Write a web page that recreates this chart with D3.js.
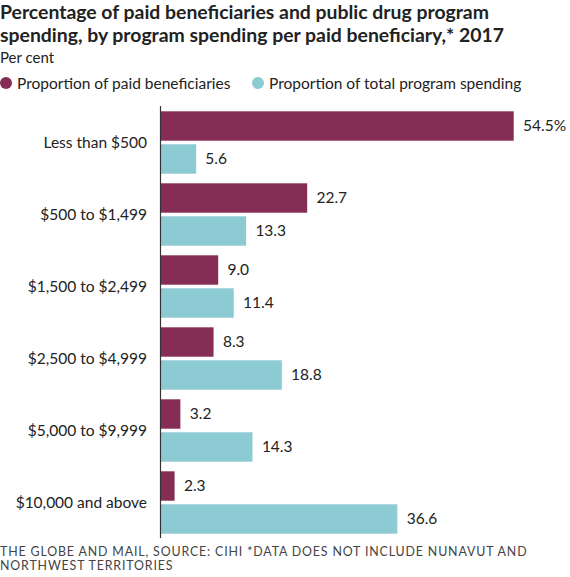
<!DOCTYPE html>
<html>
<head>
<meta charset="utf-8">
<script src="https://cdn.jsdelivr.net/npm/d3@7"></script>
<style>
  body { margin: 0; background: #fff; }
  svg text { font-family: Lato, "Open Sans", sans-serif; fill: #222; }
</style>
</head>
<body>
<svg id="chart" width="570" height="577"></svg>
<script>
// chart data
var categories = ['Less than $500', '$500 to $1,499', '$1,500 to $2,499',
  '$2,500 to $4,999', '$5,000 to $9,999', '$10,000 and above'];
var beneficiaries = [54.5, 22.7, 9.0, 8.3, 3.2, 2.3];
var spending = [5.6, 13.3, 11.4, 18.8, 14.3, 36.6];
var seriesNames = ['Proportion of paid beneficiaries', 'Proportion of total program spending'];
var seriesColors = ['#862d55', '#8ccbd3'];

var svg = d3.select('#chart');
var margin = { left: 160, top: 106, bottom: 538 };

svg.append('text').attr('x', 0).attr('y', 19)
  .style('font-size', '19.4px').style('font-weight', 'bold')
  .text('Percentage of paid beneficiaries and public drug program');
svg.append('text').attr('x', 0).attr('y', 42)
  .style('font-size', '19.4px').style('font-weight', 'bold')
  .text('spending, by program spending per paid beneficiary,* 2017');
svg.append('text').attr('x', 0).attr('y', 63)
  .style('font-size', '15px').text('Per cent');

// legend
var legend = svg.append('g').attr('class', 'legend');
var legX = [6, 258];
seriesNames.forEach(function(name, i) {
  legend.append('circle').attr('cx', legX[i]).attr('cy', 83).attr('r', 6)
    .style('fill', seriesColors[i]);
  legend.append('text').attr('x', legX[i] + 11).attr('y', 88.5)
    .style('font-size', '15.5px').text(name);
});

var x = d3.scaleLinear().domain([0, 54.5]).range([margin.left, 514]);
var y0 = d3.scaleBand().domain(categories).range([111, 534]).paddingInner(0.125).paddingOuter(0);
var y1 = d3.scaleBand().domain([0, 1]).range([0, y0.bandwidth()]).paddingInner(0.09);

var rows = categories.map(function(c, i) {
  return { cat: c, vals: [beneficiaries[i], spending[i]] };
});

var groups = svg.selectAll('.grp').data(rows).enter().append('g')
  .attr('class', 'grp')
  .attr('transform', d => 'translate(0,' + y0(d.cat) + ')');

groups.selectAll('rect').data(d => d.vals).enter().append('rect')
  .attr('x', x(0))
  .attr('y', (d, i) => y1(i))
  .attr('width', d => x(d) - x(0))
  .attr('height', y1.bandwidth())
  .style('fill', (d, i) => seriesColors[i])
  .style('stroke', '#fff').style('stroke-width', 0.6);

groups.selectAll('.val').data(d => d.vals).enter().append('text')
  .attr('class', 'val')
  .attr('x', d => x(d) + 9)
  .attr('y', (d, i) => y1(i) + y1.bandwidth() / 2)
  .attr('dy', '0.35em')
  .style('font-size', '15.5px')
  .text(function(d, i) {
    var p = d3.select(this.parentNode).datum();
    return d.toFixed(1) + (p.cat === categories[0] && i === 0 ? '%' : '');
  });

// category labels
svg.selectAll('.cat').data(categories).enter().append('text')
  .attr('class', 'cat')
  .attr('x', 147)
  .attr('y', d => y0(d) + y0.bandwidth() / 2)
  .attr('dy', '0.35em')
  .attr('text-anchor', 'end')
  .style('font-size', '15.5px')
  .text(d => d);

svg.append('line')
  .attr('x1', margin.left + 0.5).attr('x2', margin.left + 0.5)
  .attr('y1', margin.top).attr('y2', margin.bottom)
  .style('stroke', '#333').style('stroke-width', 1.2);

svg.append('text').attr('x', 0).attr('y', 555.5)
  .style('font-size', '12.4px').style('fill', '#444').style('letter-spacing', '0.85px')
  .text('THE GLOBE AND MAIL, SOURCE: CIHI *DATA DOES NOT INCLUDE NUNAVUT AND');
svg.append('text').attr('x', 0).attr('y', 570)
  .style('font-size', '12.4px').style('fill', '#444').style('letter-spacing', '0.85px')
  .text('NORTHWEST TERRITORIES');
</script>
</body>
</html>
